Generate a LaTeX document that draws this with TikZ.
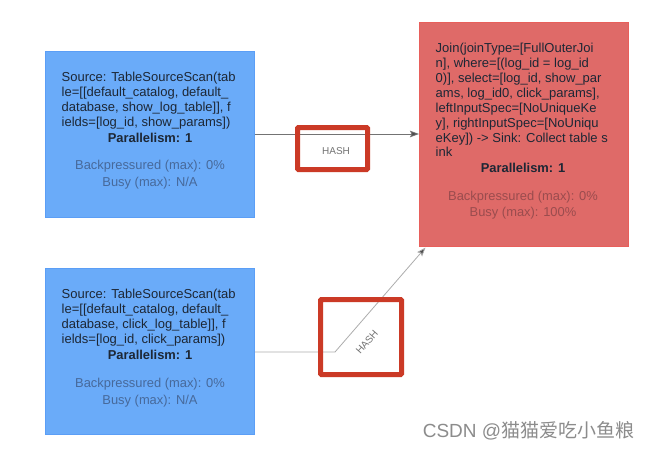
\documentclass[tikz,border=0pt]{standalone}
\usepackage{fontspec}
\setmainfont{Liberation Sans}
\newfontfamily\cjkfont{Noto Sans CJK SC}
\usetikzlibrary{arrows.meta}
\definecolor{blueFill}{HTML}{6AABF9}
\definecolor{blueEdge}{HTML}{5B9EF6}
\definecolor{redFill}{HTML}{DF6A68}
\definecolor{redEdge}{HTML}{E85F5B}
\definecolor{inkDark}{HTML}{1D2735}
\definecolor{mutedBlue}{HTML}{47699A}
\definecolor{mutedRed}{HTML}{9A4C4E}
\definecolor{frameRed}{HTML}{CB3A26}
\tikzset{
  px/.style={x=1pt,y=-1pt},
  sourcebox/.style={draw=blueEdge,fill=blueFill,line width=0.8pt,minimum width=209pt,minimum height=165.5pt,inner sep=0pt,anchor=north west},
  joinbox/.style={draw=redEdge,fill=redFill,line width=0.8pt,minimum width=208.5pt,minimum height=223.5pt,inner sep=0pt,anchor=north west},
  bodytext/.style={text=inkDark,align=left,anchor=north west,inner sep=0pt,font=\fontsize{13}{14.9}\selectfont},
  boldtext/.style={text=inkDark,anchor=center,inner sep=0pt,font=\fontsize{12.9}{14}\selectfont\bfseries},
  metrictext/.style={align=center,anchor=center,inner sep=0pt,font=\fontsize{12.9}{16.4}\selectfont},
  edgeline/.style={draw=#1,line width=0.8pt,-{Stealth[length=9pt,width=6.5pt,inset=1.5pt,fill=black!70]}},
  edgelabel/.style={text=black!55,inner sep=0pt,font=\fontsize{10}{11}\selectfont},
  markframe/.style={draw=frameRed,line width=5pt,rounded corners=1pt,inner sep=0pt,anchor=north west}
}
\begin{document}
\begin{tikzpicture}[px]
\useasboundingbox (0,0) rectangle (650,450);
\fill[white] (0,0) rectangle (650,450);
\node[sourcebox] (srcA) at (45,51) {};
\node[sourcebox] (srcB) at (45,268) {};
\node[joinbox] (join) at (419,22) {};
\node[bodytext] (srcAtext) at (61.5,72) {Source: TableSourceScan(tab\\le=[[default\_catalog, default\_\\database, show\_log\_table]], f\\ields=[log\_id, show\_params])};
\node[boldtext] (srcAbold) at (150,138) {Parallelism: 1};
\node[metrictext,text=mutedBlue] (srcAmetric) at (150,174.5) {Backpressured (max): 0\%\\Busy (max): N/A};
\node[bodytext] (srcBtext) at (61.5,289) {Source: TableSourceScan(tab\\le=[[default\_catalog, default\_\\database, click\_log\_table]], f\\ields=[log\_id, click\_params])};
\node[boldtext] (srcBbold) at (150,355) {Parallelism: 1};
\node[metrictext,text=mutedBlue] (srcBmetric) at (150,392.5) {Backpressured (max): 0\%\\Busy (max): N/A};
\node[bodytext] (jointext) at (435.5,43) {Join(joinType=[FullOuterJoi\\n], where=[(log\_id = log\_id\\0)], select=[log\_id, show\_par\\ams, log\_id0, click\_params],\\leftInputSpec=[NoUniqueKe\\y], rightInputSpec=[NoUniqu\\eKey]) -> Sink: Collect table s\\ink};
\node[boldtext] (joinbold) at (523,168) {Parallelism: 1};
\node[metrictext,text=mutedRed] (joinmetric) at (523,205) {Backpressured (max): 0\%\\Busy (max): 100\%};
\coordinate (startA) at (srcA.east |- 0,134);
\coordinate (endA) at (join.west |- 0,134);
\coordinate (startB) at (srcB.east |- 0,352);
\coordinate (bendB) at (335,352);
\coordinate (endB) at (425.5,247.5);
\draw[edgeline=black!55] (startA) -- (endA);
\draw[edgeline=black!32] (startB) -- (bendB) -- (endB);
\node[edgelabel] (hashA) at (336,151) {HASH};
\node[edgelabel,rotate=49] (hashB) at (367,342) {HASH};
\node[markframe,minimum width=70pt,minimum height=42pt] (frameA) at (295,125) {};
\node[markframe,minimum width=81pt,minimum height=75pt] (frameB) at (318,297) {};
\node[anchor=center,inner sep=0pt,text=black!45,font=\fontsize{19}{22}\selectfont] (mark) at (528.5,431) {CSDN @{\cjkfont 猫猫爱吃小鱼粮}};
\end{tikzpicture}
\end{document}
